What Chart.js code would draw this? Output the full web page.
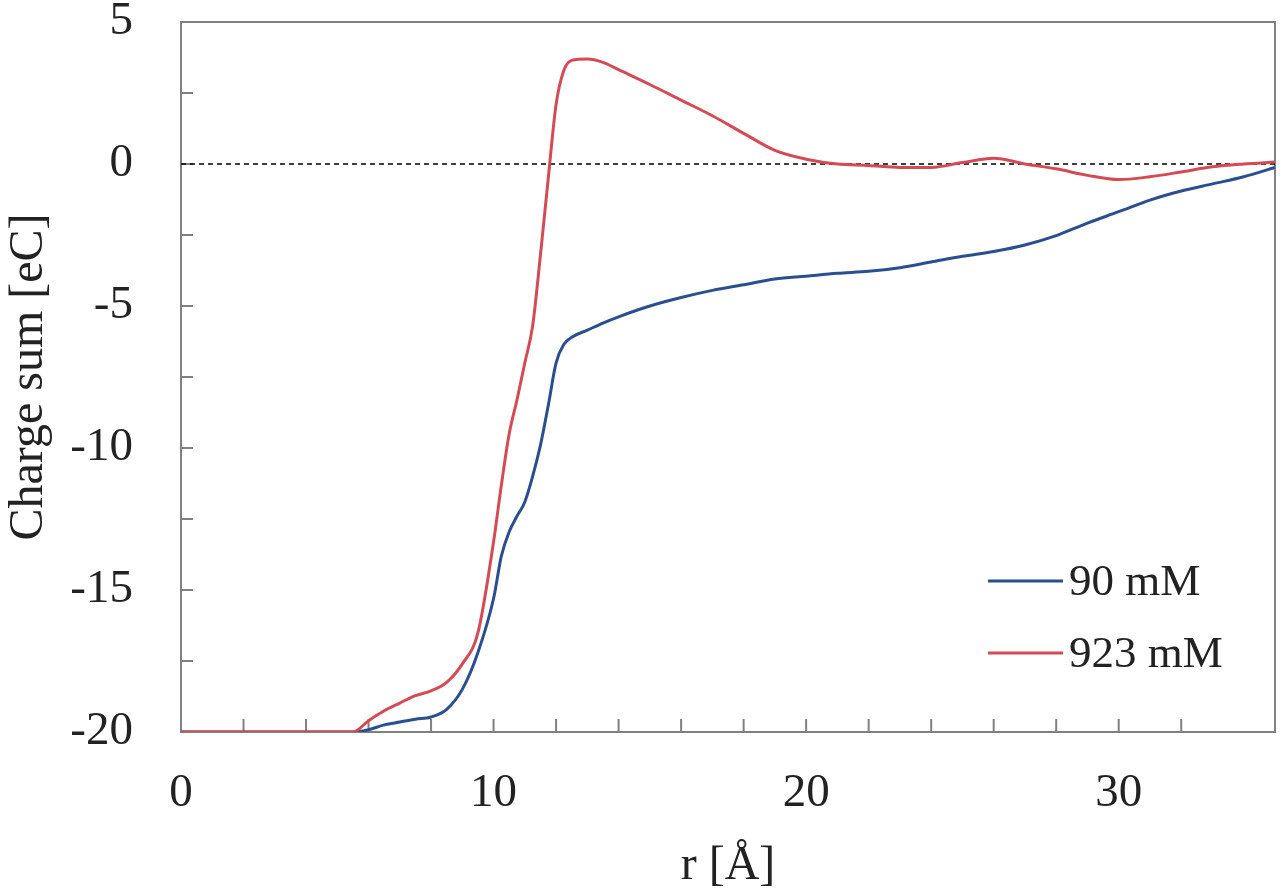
<!DOCTYPE html>
<html>
<head>
<meta charset="utf-8">
<script src="https://cdn.jsdelivr.net/npm/chart.js@4.4.1/dist/chart.umd.min.js"></script>
<style>
  html, body { margin: 0; padding: 0; background: #fff; }
  #wrap { width: 1280px; height: 896px; }
</style>
</head>
<body>
<div id="wrap"><canvas id="charge"></canvas></div>
<script>
// radial distance r [A]
const rValues = [0, 5.5, 6, 6.5, 7, 7.5, 8, 8.5, 9, 9.5, 10, 10.25, 10.5, 10.75, 11, 11.25, 11.5, 11.75, 12, 12.25, 12.5, 13, 13.5, 14, 15, 16, 17, 18, 19, 20, 21, 22, 23, 24, 25, 26, 27, 28, 29, 30, 31, 32, 33, 34, 35];
// charge sum [eC]
const charge90 = [-20, -20, -19.92, -19.75, -19.65, -19.55, -19.47, -19.2, -18.5, -17.2, -15.3, -13.8, -12.95, -12.4, -11.9, -11.0, -9.9, -8.5, -7.0, -6.35, -6.1, -5.85, -5.6, -5.38, -5.0, -4.7, -4.45, -4.25, -4.05, -3.95, -3.85, -3.78, -3.65, -3.45, -3.25, -3.08, -2.85, -2.52, -2.08, -1.68, -1.27, -0.95, -0.7, -0.45, -0.12];
const charge923 = [-20, -20, -19.6, -19.25, -18.98, -18.72, -18.55, -18.25, -17.6, -16.5, -13.3, -11.3, -9.5, -8.3, -7.0, -5.7, -3.2, -0.5, 2.1, 3.3, 3.65, 3.7, 3.58, 3.32, 2.8, 2.25, 1.7, 1.08, 0.48, 0.17, 0.0, -0.05, -0.12, -0.12, 0.05, 0.2, 0.0, -0.17, -0.4, -0.55, -0.45, -0.28, -0.1, 0.0, 0.07];
const zeroR = [0, 35];
const zeroLine = [0, 0];

const legendNames = ['90 mM', '923 mM'];
const blue = '#2b4f8e';
const red = '#d24b55';
const axisGray = '#808080';
const textColor = '#222';
const serif = '"Liberation Serif", "Times New Roman", serif';

const toPoints = (xs, ys) => xs.map((x, i) => ({ x: x, y: ys[i] }));

// frame + inward ticks
const framePlugin = {
  id: 'frame',
  beforeDatasetsDraw(chart) {
    const { ctx, chartArea: a, scales } = chart;
    ctx.save();
    ctx.strokeStyle = axisGray;
    ctx.lineWidth = 2;
    ctx.beginPath();
    scales.x.ticks.forEach(t => {
      const px = scales.x.getPixelForValue(t.value);
      ctx.moveTo(px, a.bottom);
      ctx.lineTo(px, a.bottom - 13);
    });
    scales.y.ticks.forEach(t => {
      const py = scales.y.getPixelForValue(t.value);
      ctx.moveTo(a.left, py);
      ctx.lineTo(a.left + 12, py);
    });
    ctx.stroke();
    ctx.strokeRect(a.left, a.top, a.right - a.left, a.bottom - a.top);
    ctx.restore();
  }
};

// legend inside the plot, bottom right
const innerLegend = {
  id: 'innerLegend',
  afterDatasetsDraw(chart) {
    const { ctx, chartArea: a } = chart;
    const items = [
      { text: legendNames[0], color: blue, y: a.bottom - 151 },
      { text: legendNames[1], color: red, y: a.bottom - 79 }
    ];
    ctx.save();
    ctx.font = '45px ' + serif;
    ctx.textBaseline = 'middle';
    ctx.fillStyle = textColor;
    items.forEach(it => {
      ctx.strokeStyle = it.color;
      ctx.lineWidth = 3;
      ctx.beginPath();
      ctx.moveTo(a.right - 287, it.y);
      ctx.lineTo(a.right - 212, it.y);
      ctx.stroke();
      ctx.fillText(it.text, a.right - 206, it.y + 2);
    });
    ctx.restore();
  }
};

new Chart(document.getElementById('charge'), {
  type: 'line',
  data: {
    datasets: [
      {
        label: legendNames[1],
        data: toPoints(rValues, charge923),
        borderColor: red,
        borderWidth: 3,
        pointRadius: 0,
        cubicInterpolationMode: 'monotone'
      },
      {
        label: legendNames[0],
        data: toPoints(rValues, charge90),
        borderColor: blue,
        borderWidth: 3,
        pointRadius: 0,
        cubicInterpolationMode: 'monotone'
      },
      {
        label: 'zero',
        data: toPoints(zeroR, zeroLine),
        borderColor: '#000',
        borderWidth: 1.5,
        borderDash: [5, 4],
        pointRadius: 0
      }
    ]
  },
  options: {
    responsive: true,
    maintainAspectRatio: false,
    animation: false,
    layout: { padding: { left: 0, right: 5, top: 22, bottom: 0 } },
    plugins: {
      legend: { display: false },
      tooltip: { enabled: false }
    },
    scales: {
      x: {
        type: 'linear',
        min: 0,
        max: 35,
        grid: { display: false, drawTicks: false },
        border: { display: false },
        ticks: {
          stepSize: 2,
          autoSkip: false,
          maxRotation: 0,
          padding: 33,
          color: textColor,
          font: { family: serif, size: 47 },
          callback: v => (v % 10 === 0 ? v : '')
        },
        title: {
          display: true,
          text: 'r [Å]',
          color: textColor,
          font: { family: serif, size: 48 },
          padding: { top: 0, bottom: 1 }
        },
        afterFit(scale) {
          scale.height = 164;
          scale.paddingLeft = 0;
          scale.paddingRight = 0;
        }
      },
      y: {
        min: -20,
        max: 5,
        grid: { display: false, drawTicks: false },
        border: { display: false },
        ticks: {
          stepSize: 2.5,
          autoSkip: false,
          padding: 48,
          color: textColor,
          font: { family: serif, size: 47 },
          callback: v => (v % 5 === 0 ? v : '')
        },
        title: {
          display: true,
          text: 'Charge sum [eC]',
          color: textColor,
          font: { family: serif, size: 48 },
          padding: { top: 1, bottom: 0 }
        },
        afterFit(scale) {
          scale.width = 181;
          scale.paddingTop = 0;
          scale.paddingBottom = 0;
        }
      }
    }
  },
  plugins: [framePlugin, innerLegend]
});
</script>
</body>
</html>
